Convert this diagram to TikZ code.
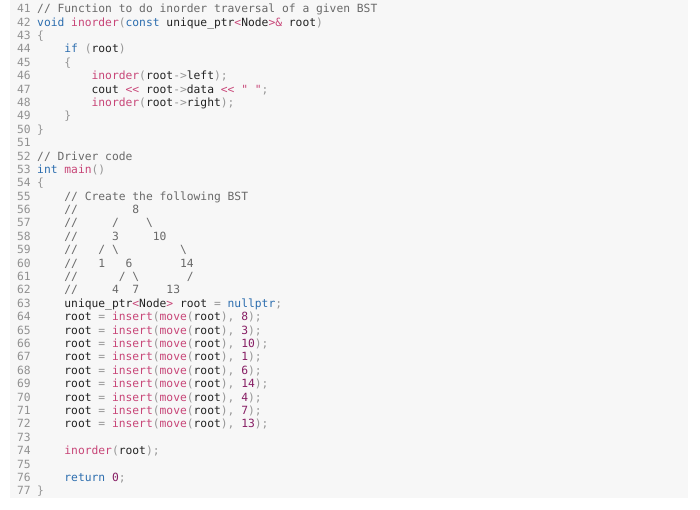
\documentclass[tikz,border=0pt]{standalone}
\usepackage{fontspec}
\setmonofont{DejaVu Sans Mono}
\definecolor{kw}{RGB}{45,110,175}
\definecolor{fn}{RGB}{200,70,120}
\definecolor{nm}{RGB}{135,30,100}
\definecolor{cm}{RGB}{105,105,105}
\definecolor{tx}{RGB}{35,35,35}
\definecolor{op}{RGB}{150,150,150}
\definecolor{lnc}{RGB}{145,145,145}
\definecolor{bgc}{RGB}{247,247,247}
\newcommand\K[1]{\textcolor{kw}{#1}}
\newcommand\F[1]{\textcolor{fn}{#1}}
\newcommand\N[1]{\textcolor{nm}{#1}}
\newcommand\C[1]{\textcolor{cm}{#1}}
\newcommand\OP[1]{\textcolor{op}{#1}}
\newcommand\Ind[1]{\hspace*{\dimexpr 0.602em*#1\relax}}
\newcommand\Ln[2]{%
  \node[lnum] (n#1) at (31,{499-(#1-41)*13.39}) {#1};
  \node[code] (c#1) at (37,{499-(#1-41)*13.39}) {#2};}
\newcommand\Ins[1]{\Ind{4}root \OP{=} \F{insert}\OP{(}\F{move}\OP{(}root\OP{),} \N{#1}\OP{);}}
\begin{document}
\begin{tikzpicture}[x=1pt,y=1pt,
  lnum/.style={anchor=east,inner sep=0,text height=8pt,text depth=2.5pt,font=\ttfamily\fontsize{11.3}{12}\selectfont,text=lnc},
  code/.style={anchor=west,inner sep=0,text height=8pt,text depth=2.5pt,font=\ttfamily\fontsize{11.3}{12}\selectfont,text=tx}]
\useasboundingbox (0,0) rectangle (700,509);
\fill[bgc] (10,11) rectangle (688,509);
\Ln{41}{\C{// Function to do inorder traversal of a given BST}}
\Ln{42}{\K{void} \F{inorder}\OP{(}\K{const} unique\_ptr\F{<}Node\F{>\&} root\OP{)}}
\Ln{43}{\OP{\{}}
\Ln{44}{\Ind{4}\K{if} \OP{(}root\OP{)}}
\Ln{45}{\Ind{4}\OP{\{}}
\Ln{46}{\Ind{8}\F{inorder}\OP{(}root\OP{->}left\OP{);}}
\Ln{47}{\Ind{8}cout \F{<<} root\OP{->}data \F{<<} \F{" "}\OP{;}}
\Ln{48}{\Ind{8}\F{inorder}\OP{(}root\OP{->}right\OP{);}}
\Ln{49}{\Ind{4}\OP{\}}}
\Ln{50}{\OP{\}}}
\Ln{51}{}
\Ln{52}{\C{// Driver code}}
\Ln{53}{\K{int} \F{main}\OP{()}}
\Ln{54}{\OP{\{}}
\Ln{55}{\Ind{4}\C{// Create the following BST}}
\Ln{56}{\Ind{4}\C{//\Ind{8}8}}
\Ln{57}{\Ind{4}\C{//\Ind{5}/\Ind{4}\textbackslash}}
\Ln{58}{\Ind{4}\C{//\Ind{5}3\Ind{5}10}}
\Ln{59}{\Ind{4}\C{//\Ind{3}/\Ind{1}\textbackslash\Ind{9}\textbackslash}}
\Ln{60}{\Ind{4}\C{//\Ind{3}1\Ind{3}6\Ind{7}14}}
\Ln{61}{\Ind{4}\C{//\Ind{6}/\Ind{1}\textbackslash\Ind{7}/}}
\Ln{62}{\Ind{4}\C{//\Ind{5}4\Ind{2}7\Ind{4}13}}
\Ln{63}{\Ind{4}unique\_ptr\F{<}Node\F{>} root \OP{=} \K{nullptr}\OP{;}}
\Ln{64}{\Ins{8}}
\Ln{65}{\Ins{3}}
\Ln{66}{\Ins{10}}
\Ln{67}{\Ins{1}}
\Ln{68}{\Ins{6}}
\Ln{69}{\Ins{14}}
\Ln{70}{\Ins{4}}
\Ln{71}{\Ins{7}}
\Ln{72}{\Ins{13}}
\Ln{73}{}
\Ln{74}{\Ind{4}\F{inorder}\OP{(}root\OP{);}}
\Ln{75}{}
\Ln{76}{\Ind{4}\K{return} \N{0}\OP{;}}
\Ln{77}{\OP{\}}}
\end{tikzpicture}
\end{document}
